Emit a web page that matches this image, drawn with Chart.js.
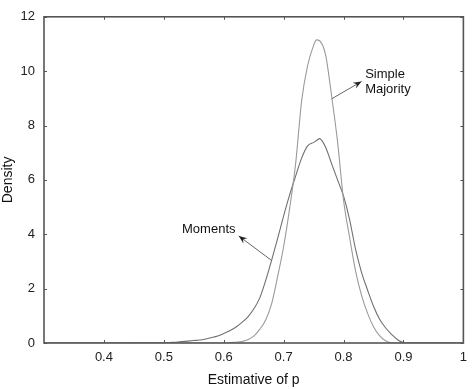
<!DOCTYPE html>
<html>
<head>
<meta charset="utf-8">
<script src="https://cdn.jsdelivr.net/npm/chart.js@4/dist/chart.umd.min.js"></script>
<style>
html,body{margin:0;padding:0;background:#fff;}
#wrap{width:474px;height:389px;position:relative;}
</style>
</head>
<body>
<div id="wrap"><canvas id="c" width="474" height="389"></canvas></div>
<script>
// Estimative of p (x grid)
const xs = [0.30, 0.40, 0.50, 0.51, 0.52, 0.53, 0.54, 0.55, 0.56, 0.57, 0.58, 0.59,
            0.60, 0.61, 0.62, 0.63, 0.64, 0.65, 0.66, 0.67, 0.68, 0.69,
            0.70, 0.71, 0.72, 0.73, 0.74, 0.75, 0.755, 0.76, 0.77, 0.78, 0.79,
            0.80, 0.81, 0.82, 0.83, 0.84, 0.85, 0.86, 0.87, 0.88, 0.89,
            0.90, 0.91, 0.92, 1.00];
// Density of Simple Majority estimator
const simpleMajority = [0, 0, 0, 0, 0, 0, 0, 0, 0, 0, 0, 0,
            0, 0.01, 0.03, 0.05, 0.12, 0.25, 0.50, 0.85, 1.45, 2.45,
            3.55, 4.95, 6.60, 8.90, 10.20, 10.95, 11.15, 11.12, 10.60, 9.10, 7.40,
            5.25, 3.90, 2.65, 1.75, 1.10, 0.60, 0.27, 0.08, 0.01, 0,
            0, 0, 0, 0];
// Density of Moments estimator
const moments = [0, 0, 0.01, 0.02, 0.03, 0.05, 0.07, 0.09, 0.11, 0.15, 0.20, 0.26,
            0.35, 0.45, 0.58, 0.75, 0.95, 1.25, 1.65, 2.30, 3.05, 3.85,
            4.68, 5.45, 6.14, 6.80, 7.25, 7.38, 7.45, 7.52, 7.20, 6.60, 6.00,
            5.40, 4.55, 3.45, 2.60, 1.95, 1.35, 0.88, 0.56, 0.32, 0.12,
            0.02, 0, 0, 0];
const xTicks = [0.4, 0.5, 0.6, 0.7, 0.8, 0.9, 1];
const yTicks = [0, 2, 4, 6, 8, 10, 12];
const labels = [
  {text: ["Simple", "Majority"], x: 0.836, y: 9.87, tail: [0.780, 8.98], head: [0.830, 9.62], align: "left"},
  {text: ["Moments"], x: 0.575, y: 4.19, tail: [0.679, 3.05], head: [0.625, 3.94], align: "center"}
];

const FONT = "'Liberation Sans', Arial, Helvetica, sans-serif";

const boxPlugin = {
  id: "box",
  afterDatasetsDraw(chart) {
    const {ctx, chartArea: a, scales: {x, y}} = chart;
    ctx.save();
    ctx.strokeStyle = "#555";
    ctx.lineWidth = 1;
    const tl = 3;
    ctx.beginPath();
    xTicks.forEach(v => {
      const px = Math.round(x.getPixelForValue(v)) + 0.5;
      ctx.moveTo(px, a.bottom); ctx.lineTo(px, a.bottom - tl);
      ctx.moveTo(px, a.top); ctx.lineTo(px, a.top + tl);
    });
    yTicks.forEach(v => {
      const py = Math.round(y.getPixelForValue(v)) + 0.5;
      ctx.moveTo(a.left, py); ctx.lineTo(a.left + tl, py);
      ctx.moveTo(a.right, py); ctx.lineTo(a.right - tl, py);
    });
    ctx.stroke();
    ctx.lineWidth = 1.6;
    ctx.strokeStyle = "#555";
    ctx.strokeRect(a.left, a.top, a.right - a.left, a.bottom - a.top);

    // annotations
    ctx.fillStyle = "#111";
    ctx.font = "13px " + FONT;
    ctx.textBaseline = "middle";
    labels.forEach(l => {
      ctx.textAlign = l.align;
      const tx = x.getPixelForValue(l.x), ty = y.getPixelForValue(l.y);
      l.text.forEach((t, i) => ctx.fillText(t, tx, ty + i * 15));
      const x1 = x.getPixelForValue(l.tail[0]), y1 = y.getPixelForValue(l.tail[1]);
      const x2 = x.getPixelForValue(l.head[0]), y2 = y.getPixelForValue(l.head[1]);
      ctx.strokeStyle = "#666";
      ctx.lineWidth = 1;
      ctx.beginPath(); ctx.moveTo(x1, y1); ctx.lineTo(x2, y2); ctx.stroke();
      const ang = Math.atan2(y2 - y1, x2 - x1), L = 9, W = 0.38;
      ctx.fillStyle = "#222";
      ctx.beginPath();
      ctx.moveTo(x2, y2);
      ctx.lineTo(x2 - L * Math.cos(ang - W), y2 - L * Math.sin(ang - W));
      ctx.lineTo(x2 - 0.6 * L * Math.cos(ang), y2 - 0.6 * L * Math.sin(ang));
      ctx.lineTo(x2 - L * Math.cos(ang + W), y2 - L * Math.sin(ang + W));
      ctx.closePath(); ctx.fill();
      ctx.fillStyle = "#111";
    });
    ctx.restore();
  }
};

new Chart(document.getElementById("c"), {
  type: "line",
  data: {
    datasets: [
      {label: "Simple Majority", data: xs.map((v, i) => ({x: v, y: simpleMajority[i]})),
       borderColor: "#9a9a9a", borderWidth: 1.1, pointRadius: 0, fill: false, cubicInterpolationMode: "monotone"},
      {label: "Moments", data: xs.map((v, i) => ({x: v, y: moments[i]})),
       borderColor: "#707070", borderWidth: 1.1, pointRadius: 0, fill: false, cubicInterpolationMode: "monotone"}
    ]
  },
  options: {
    responsive: false,
    animation: false,
    devicePixelRatio: 1,
    layout: {padding: {top: 5, right: 3, left: 0, bottom: 0}},
    plugins: {legend: {display: false}, tooltip: {enabled: false}},
    scales: {
      x: {
        type: "linear", min: 0.3, max: 1.0,
        afterBuildTicks: s => { s.ticks = xTicks.map(v => ({value: v})); },
        afterFit: s => { s.height = 46; },
        grid: {display: false, drawTicks: false},
        border: {display: false},
        ticks: {padding: 7, color: "#222", font: {family: FONT, size: 13},
                callback: v => (v === 1 ? "1" : v.toFixed(1))},
        title: {display: true, text: "Estimative of p", color: "#111",
                font: {family: FONT, size: 14}, padding: {top: 5, bottom: 0}}
      },
      y: {
        min: 0, max: 12,
        afterBuildTicks: s => { s.ticks = yTicks.map(v => ({value: v})); },
        afterFit: s => { s.width = 44; },
        grid: {display: false, drawTicks: false},
        border: {display: false},
        ticks: {padding: 9, color: "#222", font: {family: FONT, size: 13}},
        title: {display: true, text: "Density", color: "#111",
                font: {family: FONT, size: 14}, padding: {top: 0, bottom: 0}}
      }
    }
  },
  plugins: [boxPlugin]
});
</script>
</body>
</html>
